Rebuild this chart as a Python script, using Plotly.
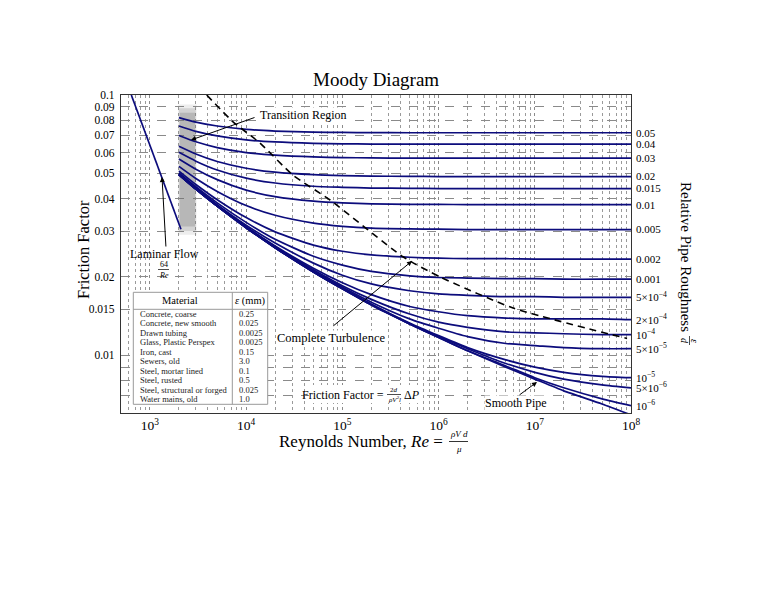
import math
import plotly.graph_objects as go

# ---------------- data ----------------
re_pts = [2e3, 3e3, 5e3, 1e4, 2e4, 5e4, 1e5, 2e5, 5e5, 1e6, 2e6, 5e6, 1e7, 2e7, 5e7, 1e8]

f_e_050 = [0.0819, 0.0787, 0.0760, 0.0738, 0.0727, 0.0720, 0.0718, 0.0717, 0.0716, 0.0716, 0.0716, 0.0716, 0.0716, 0.0716, 0.0716, 0.0716]
f_e_040 = [0.0760, 0.0725, 0.0696, 0.0672, 0.0660, 0.0652, 0.0649, 0.0648, 0.0647, 0.0647, 0.0647, 0.0647, 0.0647, 0.0647, 0.0647, 0.0647]
f_e_030 = [0.0699, 0.0661, 0.0628, 0.0601, 0.0587, 0.0578, 0.0575, 0.0573, 0.0572, 0.0572, 0.0572, 0.0572, 0.0572, 0.0572, 0.0572, 0.0572]
f_e_020 = [0.0635, 0.0593, 0.0555, 0.0523, 0.0505, 0.0494, 0.0490, 0.0488, 0.0487, 0.0486, 0.0486, 0.0486, 0.0486, 0.0486, 0.0486, 0.0486]
f_e_015 = [0.0602, 0.0557, 0.0515, 0.0479, 0.0459, 0.0446, 0.0442, 0.0439, 0.0438, 0.0437, 0.0437, 0.0437, 0.0437, 0.0437, 0.0437, 0.0437]
f_e_010 = [0.0568, 0.0519, 0.0473, 0.0431, 0.0407, 0.0391, 0.0385, 0.0382, 0.0380, 0.0380, 0.0379, 0.0379, 0.0379, 0.0379, 0.0379, 0.0379]
f_e_005 = [0.0532, 0.0478, 0.0426, 0.0376, 0.0345, 0.0322, 0.0313, 0.0308, 0.0306, 0.0305, 0.0304, 0.0304, 0.0304, 0.0304, 0.0304, 0.0304]
f_e_002 = [0.0510, 0.0453, 0.0396, 0.0338, 0.0298, 0.0265, 0.0251, 0.0243, 0.0238, 0.0236, 0.0235, 0.0235, 0.0234, 0.0234, 0.0234, 0.0234]
f_e_001 = [0.0502, 0.0444, 0.0385, 0.0324, 0.0279, 0.0240, 0.0222, 0.0210, 0.0202, 0.0199, 0.0198, 0.0197, 0.0197, 0.0196, 0.0196, 0.0196]
f_e_5e4 = [0.0498, 0.0440, 0.0379, 0.0316, 0.0270, 0.0226, 0.0203, 0.0188, 0.0177, 0.0172, 0.0170, 0.0168, 0.0168, 0.0167, 0.0167, 0.0167]
f_e_2e4 = [0.0496, 0.0437, 0.0376, 0.0312, 0.0263, 0.0216, 0.0190, 0.0171, 0.0154, 0.0147, 0.0142, 0.0139, 0.0138, 0.0138, 0.0138, 0.0137]
f_e_1e4 = [0.0495, 0.0436, 0.0375, 0.0310, 0.0261, 0.0213, 0.0185, 0.0164, 0.0144, 0.0134, 0.0128, 0.0123, 0.0122, 0.0121, 0.0120, 0.0120]
f_e_5e5 = [0.0495, 0.0436, 0.0374, 0.0310, 0.0260, 0.0211, 0.0183, 0.0160, 0.0138, 0.0127, 0.0118, 0.0111, 0.0109, 0.0107, 0.0106, 0.0106]
f_e_1e5 = [0.0495, 0.0435, 0.0374, 0.0309, 0.0259, 0.0209, 0.0181, 0.0157, 0.0133, 0.0119, 0.0107, 0.0096, 0.0090, 0.0086, 0.0083, 0.0082]
f_e_5e6 = [0.0495, 0.0435, 0.0374, 0.0309, 0.0259, 0.0209, 0.0180, 0.0157, 0.0132, 0.0118, 0.0106, 0.0093, 0.0086, 0.0081, 0.0077, 0.0075]
f_e_1e6 = [0.0495, 0.0435, 0.0374, 0.0309, 0.0259, 0.0209, 0.0180, 0.0156, 0.0132, 0.0117, 0.0104, 0.0091, 0.0082, 0.0075, 0.0068, 0.0064]
f_smooth = [0.0495, 0.0435, 0.0374, 0.0309, 0.0259, 0.0209, 0.0180, 0.0156, 0.0132, 0.0117, 0.0104, 0.0090, 0.0081, 0.0073, 0.0065, 0.0059]

rough_labels = ["0.05", "0.04", "0.03", "0.02", "0.015", "0.01", "0.005", "0.002", "0.001",
                "5×10<sup>−4</sup>", "2×10<sup>−4</sup>", "10<sup>−4</sup>", "5×10<sup>−5</sup>",
                "10<sup>−5</sup>", "5×10<sup>−6</sup>", "10<sup>−6</sup>"]

laminar_re = [640, 2100]
laminar_f = [0.1, 0.0305]

boundary_re = [3890, 7300, 13900, 30700, 74500, 427000, 1.035e6, 5.94e6, 9.1e7]
boundary_f = [0.100, 0.0789, 0.0654, 0.0492, 0.0395, 0.0239, 0.0200, 0.0152, 0.0116]

transition_re = [2000, 3000]
transition_f = [0.030, 0.089]

materials = ["Concrete, coarse", "Concrete, new smooth", "Drawn tubing", "Glass, Plastic Perspex",
             "Iron, cast", "Sewers, old", "Steel, mortar lined", "Steel, rusted",
             "Steel, structural or forged", "Water mains, old"]
eps_mm = ["0.25", "0.025", "0.0025", "0.0025", "0.15", "3.0", "0.1", "0.5", "0.025", "1.0"]

x_ticks = [1e3, 1e4, 1e5, 1e6, 1e7, 1e8]
x_ticktext = ["10<sup>3</sup>", "10<sup>4</sup>", "10<sup>5</sup>", "10<sup>6</sup>", "10<sup>7</sup>", "10<sup>8</sup>"]
y_ticks = [0.01, 0.015, 0.02, 0.03, 0.04, 0.05, 0.06, 0.07, 0.08, 0.09, 0.1]
y_ticktext = ["0.01", "0.015", "0.02", "0.03", "0.04", "0.05", "0.06", "0.07", "0.08", "0.09", "0.1"]
y_minor_grid = [0.007, 0.008, 0.009]

# ---------------- figure ----------------
W, H = 768, 594
L, R, T, B = 121, 631, 95, 413
FONT = "Liberation Serif, DejaVu Serif, serif"
NAVY = "#0c0c7c"


def px(x):
    return (x - L) / (R - L)


def py(y):
    return (B - y) / (B - T)


rough_curves = [f_e_050, f_e_040, f_e_030, f_e_020, f_e_015, f_e_010, f_e_005, f_e_002, f_e_001,
                f_e_5e4, f_e_2e4, f_e_1e4, f_e_5e5, f_e_1e5, f_e_5e6, f_e_1e6]

fig = go.Figure()

# transition region: soft grey band built from nested, semi-transparent fills (blur look)
for grow, op in [(1.08, 0.12), (1.0, 0.20), (0.9, 0.28)]:
    c = math.sqrt(transition_re[0] * transition_re[1])
    half = math.sqrt(transition_re[1] / transition_re[0]) ** grow
    xa, xb = c / half, c * half
    fy = (1.0 + (grow - 1.0) * 0.4)
    ya, yb = transition_f[0] / fy, transition_f[1] * fy
    fig.add_trace(go.Scatter(x=[xa, xb, xb, xa, xa], y=[ya, ya, yb, yb, ya], mode="lines",
                             fill="toself", fillcolor="rgba(110,110,110,%.2f)" % op,
                             line=dict(width=0), hoverinfo="skip", showlegend=False))

for fc in rough_curves + [f_smooth]:
    fig.add_trace(go.Scatter(x=re_pts, y=fc, mode="lines",
                             line=dict(color=NAVY, width=1.7, shape="spline", smoothing=0.6),
                             hoverinfo="skip", showlegend=False))

fig.add_trace(go.Scatter(x=laminar_re, y=laminar_f, mode="lines", line=dict(color=NAVY, width=1.7),
                         hoverinfo="skip", showlegend=False))
fig.add_trace(go.Scatter(x=boundary_re, y=boundary_f, mode="lines",
                         line=dict(color="black", width=1.6, dash="7px,5px", shape="spline", smoothing=0.6),
                         hoverinfo="skip", showlegend=False))
# anchor trace for the right-hand roughness axis
fig.add_trace(go.Scatter(x=[re_pts[-1]], y=[f_smooth[-1]], yaxis="y2", mode="markers",
                         marker=dict(opacity=0), hoverinfo="skip", showlegend=False))

minor_x = [k * 10 ** n for n in range(2, 8) for k in range(2, 10) if 500 <= k * 10 ** n <= 1e8]

shapes = []
# material table
tx0, tx1, ty0, ty1 = 133.3, 267.7, 292.3, 404.3
shapes.append(dict(type="rect", xref="paper", yref="paper", x0=px(tx0), x1=px(tx1), y0=py(ty1), y1=py(ty0),
                   fillcolor="white", line=dict(color="#999999", width=1), layer="above"))
shapes.append(dict(type="line", xref="paper", yref="paper", x0=px(tx0), x1=px(tx1), y0=py(309.3), y1=py(309.3),
                   line=dict(color="#999999", width=1), layer="above"))
shapes.append(dict(type="line", xref="paper", yref="paper", x0=px(232.3), x1=px(232.3), y0=py(ty1), y1=py(ty0),
                   line=dict(color="#999999", width=1), layer="above"))
# white box behind friction factor definition
shapes.append(dict(type="rect", xref="paper", yref="paper", x0=px(309), x1=px(421), y0=py(403), y1=py(385),
                   fillcolor="white", line=dict(width=0), layer="above"))
# fraction bars
shapes.append(dict(type="line", xref="paper", yref="paper", x0=px(449), x1=px(468), y0=py(441.5), y1=py(441.5),
                   line=dict(color="black", width=0.8)))
shapes.append(dict(type="line", xref="paper", yref="paper", x0=px(158), x1=px(169), y0=py(269.5), y1=py(269.5),
                   line=dict(color="black", width=0.7)))
shapes.append(dict(type="line", xref="paper", yref="paper", x0=px(387), x1=px(401), y0=py(394.5), y1=py(394.5),
                   line=dict(color="black", width=0.7)))
shapes.append(dict(type="line", xref="paper", yref="paper", x0=px(689.5), x1=px(689.5), y0=py(345), y1=py(336),
                   line=dict(color="black", width=0.7)))


def txt(x, y, text, size=11, xanchor="center", bg=None, angle=0, color="black"):
    d = dict(xref="paper", yref="paper", x=px(x), y=py(y), text=text, showarrow=False,
             xanchor=xanchor, yanchor="middle", textangle=angle,
             font=dict(family=FONT, size=size, color=color))
    if bg:
        d["bgcolor"] = bg
        d["borderpad"] = 0
    return d


def arrow(tipx, tipy, tailx, taily):
    return dict(xref="paper", yref="paper", x=px(tipx), y=py(tipy), text="", showarrow=True,
                ax=tailx - tipx, ay=taily - tipy, arrowhead=2, arrowsize=1, arrowwidth=1,
                arrowcolor="black", standoff=0, startstandoff=0)


annotations = [
    txt(376, 79, "Moody Diagram", size=19),
    txt(83, 250, "Friction Factor", size=16.5, angle=-90),
    txt(686, 257, "Relative Pipe Roughness", size=15, angle=90),
    txt(694.5, 340.5, "<i>ε</i>", size=10, angle=90),
    txt(684.5, 340.5, "<i>d</i>", size=10, angle=90),
    txt(445, 441, "Reynolds Number, <i>Re</i> =", size=17, xanchor="right"),
    txt(458.5, 434, "<i>ρV d</i>", size=9),
    txt(458.5, 449, "<i>μ</i>", size=9),
    txt(303, 114.5, "Transition Region", size=12, bg="white"),
    txt(164, 254.5, "Laminar Flow", size=12),
    txt(163.5, 264.5, "64", size=8),
    txt(163.5, 275, "<i>Re</i>", size=8),
    txt(331, 337.5, "Complete Turbulence", size=12.5, bg="white"),
    txt(516, 403, "Smooth Pipe", size=12, bg="white"),
    txt(386, 394.5, "Friction Factor =", size=12, xanchor="right"),
    txt(394, 390, "2<i>d</i>", size=7),
    txt(394, 399.5, "<i>ρV</i><sup>2</sup><i>l</i>", size=7),
    txt(402, 394.5, "Δ<i>P</i>", size=12, xanchor="left"),
    arrow(191, 140, 256, 117),
    arrow(162, 177, 166, 248),
    arrow(412, 261, 332, 327),
    arrow(537, 382, 518, 396),
    txt(180, 300.5, "Material", size=10.5),
    txt(250, 300.5, "<i>ε</i> (mm)", size=10.5),
]
for i, (m, e) in enumerate(zip(materials, eps_mm)):
    yy = 313.5 + 9.5 * i
    annotations.append(txt(138, yy, m, size=8.5, xanchor="left", color="#222222"))
    annotations.append(txt(236.5, yy, e, size=8.5, xanchor="left", color="#222222"))

y_range = [-2.2218, -1.0]

fig.update_layout(
    width=W, height=H,
    margin=dict(l=L, r=W - R, t=T, b=H - B, pad=0),
    paper_bgcolor="white", plot_bgcolor="white",
    font=dict(family=FONT, size=12, color="black"),
    showlegend=False,
    xaxis=dict(type="log", range=[2.69897, 8.0], tickvals=x_ticks, ticktext=x_ticktext,
               showgrid=True, gridcolor="#8a8a8a", griddash="dot", gridwidth=1,
               minor=dict(tickvals=minor_x, showgrid=True, gridcolor="#9a9a9a", griddash="dot", gridwidth=1, ticks=""),
               showline=True, linecolor="#333333", linewidth=1.2, mirror=True, ticks="",
               tickfont=dict(family=FONT, size=13.5), zeroline=False),
    yaxis=dict(type="log", range=y_range, tickvals=y_ticks, ticktext=y_ticktext,
               showgrid=True, gridcolor="#8a8a8a", griddash="dash", gridwidth=1,
               minor=dict(tickvals=y_minor_grid, showgrid=True, gridcolor="#8a8a8a", griddash="dash", gridwidth=1, ticks=""),
               showline=True, linecolor="#333333", linewidth=1.2, mirror=True, ticks="",
               ticklabelstandoff=3, tickfont=dict(family=FONT, size=11.5), zeroline=False),
    yaxis2=dict(type="log", range=y_range, overlaying="y", side="right",
                tickvals=[fc[-1] for fc in rough_curves], ticktext=rough_labels,
                showgrid=False, showline=False, ticks="", ticklabelstandoff=4,
                tickfont=dict(family=FONT, size=11), zeroline=False),
    shapes=shapes,
    annotations=annotations,
)

fig.write_html("out.html")
